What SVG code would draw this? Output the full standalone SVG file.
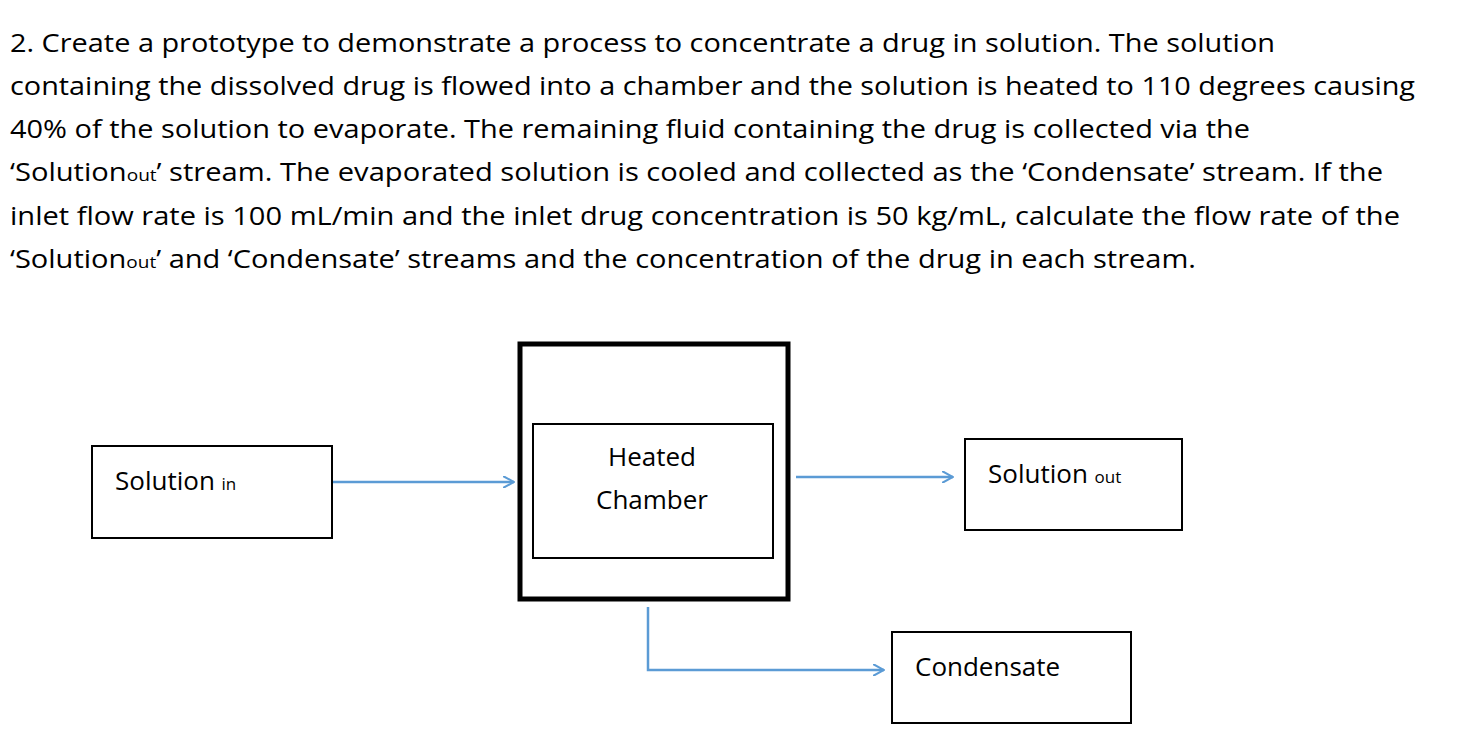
<svg xmlns="http://www.w3.org/2000/svg" width="1476" height="750" viewBox="0 0 1476 750">
<style>
.t{font-family:"Open Sans","Liberation Sans",sans-serif;font-size:26px;fill:#000}
.s{font-size:17px}
.b{fill:#fff;stroke:#000;stroke-width:2}
.c{fill:none;stroke:#5B9BD5;stroke-width:2.5}
</style>
<defs><marker id="a" viewBox="0 0 12 12" refX="11" refY="6" markerWidth="12" markerHeight="12" markerUnits="userSpaceOnUse" orient="auto"><path d="M0,0 L11,6 L0,12" fill="none" stroke="#5B9BD5" stroke-width="2"/></marker></defs>
<rect width="1476" height="750" fill="#fff"/>
<g id="question">
<text class="t" x="10" y="52" textLength="1265" lengthAdjust="spacingAndGlyphs">2. Create a prototype to demonstrate a process to concentrate a drug in solution. The solution</text>
<text class="t" x="10" y="95" textLength="1405" lengthAdjust="spacingAndGlyphs">containing the dissolved drug is flowed into a chamber and the solution is heated to 110 degrees causing</text>
<text class="t" x="10" y="138" textLength="1240" lengthAdjust="spacingAndGlyphs">40% of the solution to evaporate. The remaining fluid containing the drug is collected via the</text>
<text class="t" x="10" y="181" textLength="1373" lengthAdjust="spacingAndGlyphs">‘Solution<tspan class="s">out</tspan>’ stream. The evaporated solution is cooled and collected as the ‘Condensate’ stream. If the</text>
<text class="t" x="10" y="225" textLength="1390" lengthAdjust="spacingAndGlyphs">inlet flow rate is 100 mL/min and the inlet drug concentration is 50 kg/mL, calculate the flow rate of the</text>
<text class="t" x="10" y="268" textLength="1186" lengthAdjust="spacingAndGlyphs">‘Solution<tspan class="s">out</tspan>’ and ‘Condensate’ streams and the concentration of the drug in each stream.</text>
</g>
<g id="connectors">
<path class="c" d="M332,482 L514,482" marker-end="url(#a)"/>
<path class="c" d="M796,477 L953,477" marker-end="url(#a)"/>
<path class="c" d="M648,607 L648,670 L884,670" marker-end="url(#a)"/>
</g>
<g id="solution-in"><rect class="b" x="92" y="446" width="240" height="92"/><text class="t" x="115" y="490">Solution <tspan class="s">in</tspan></text></g>
<g id="chamber"><rect x="520" y="344" width="268" height="255" fill="#fff" stroke="#000" stroke-width="5"/><rect class="b" x="533" y="424" width="240" height="134"/><text class="t" x="652" y="466" text-anchor="middle">Heated</text><text class="t" x="652" y="509" text-anchor="middle">Chamber</text></g>
<g id="solution-out"><rect class="b" x="965" y="439" width="217" height="91"/><text class="t" x="988" y="483">Solution <tspan class="s">out</tspan></text></g>
<g id="condensate"><rect class="b" x="892" y="632" width="239" height="91"/><text class="t" x="915" y="676">Condensate</text></g>
</svg>
